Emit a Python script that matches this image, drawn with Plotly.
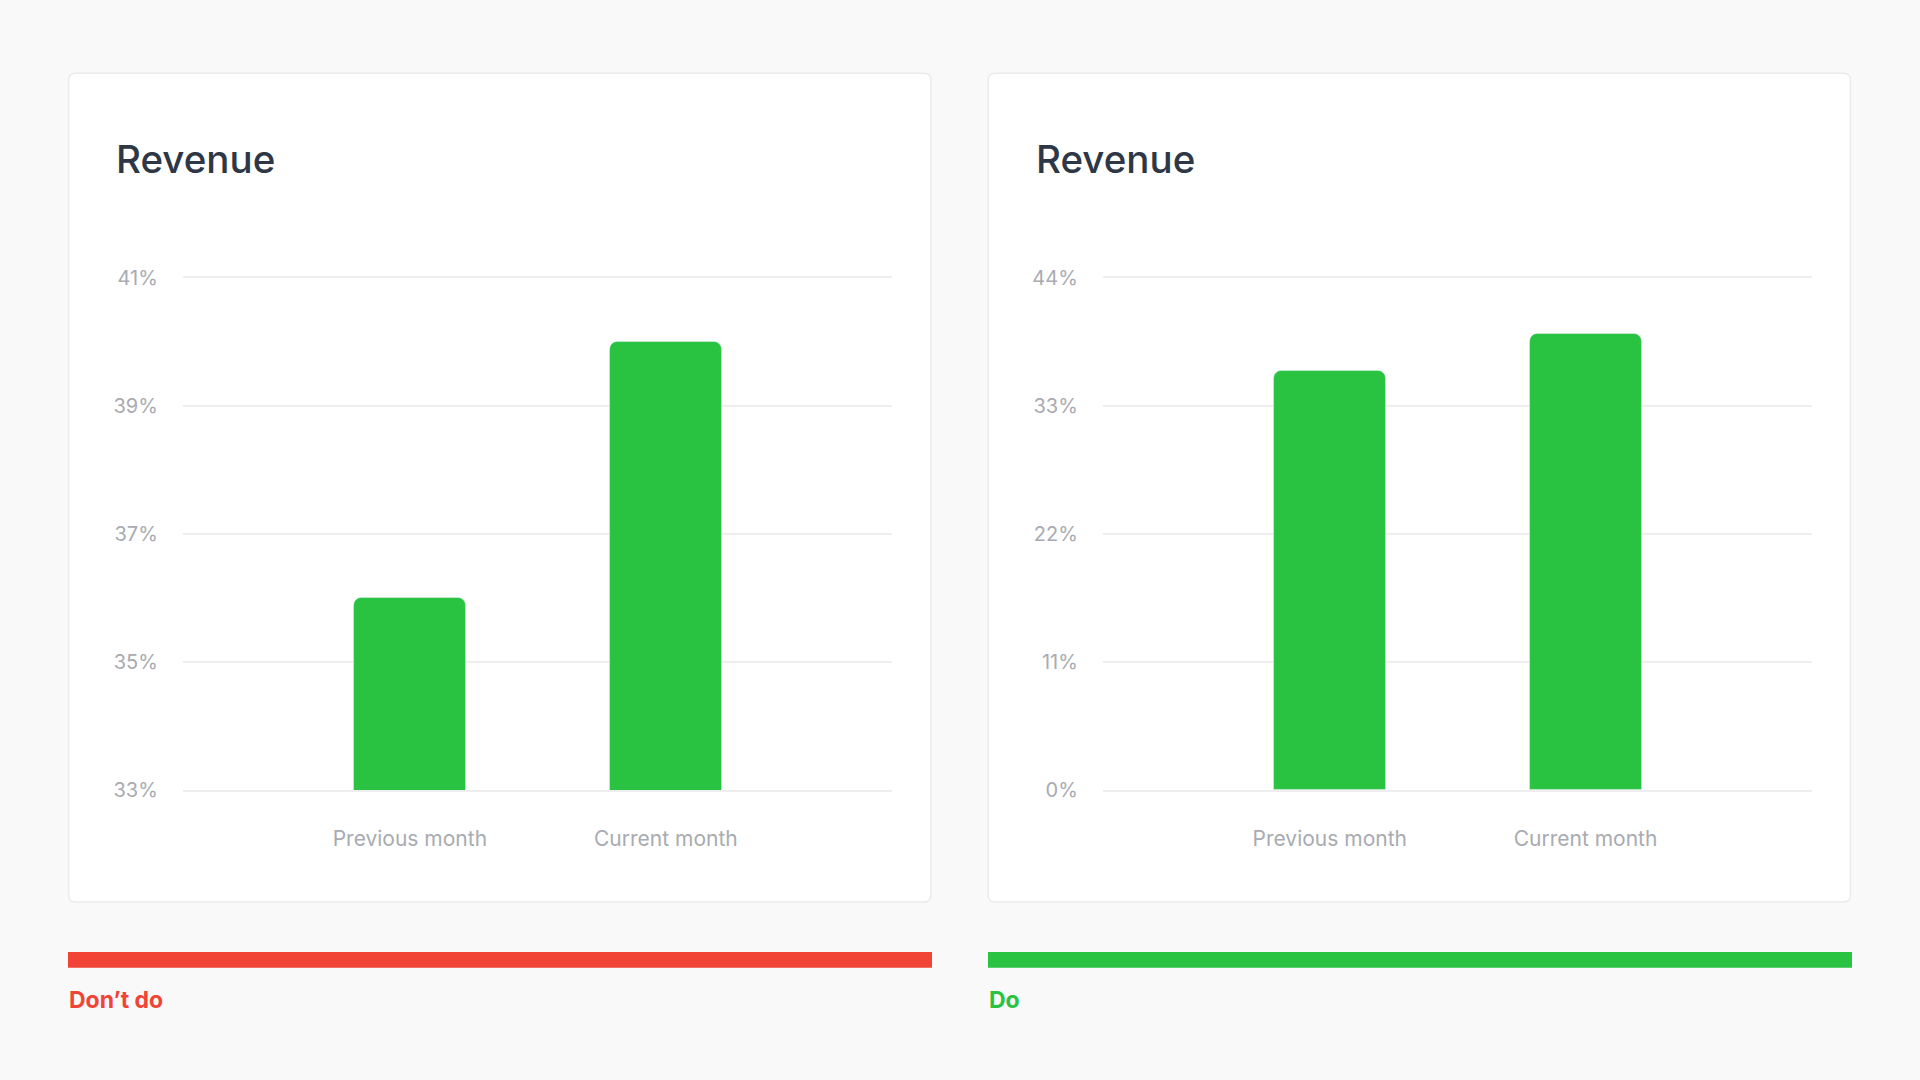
import plotly.graph_objects as go

# ---- data ----
categories = ["Previous month", "Current month"]
left_values = [36, 40]          # truncated axis ("Don't do")
right_values = [36, 39.2]       # zero-based axis ("Do")
left_ticks = [33, 35, 37, 39, 41]
right_ticks = [0, 11, 22, 33, 44]
titles = ["Revenue", "Revenue"]
verdicts = ["Don’t do", "Do"]

W, H = 1920, 1080
BAR = "#29c341"
RED = "#f14436"
GRID = "#eeeeee"
TICK = "#a8abb1"
TITLE = "#2d3745"
FONT = "Inter"

def px(x):
    return x / W

def py(y):
    return 1 - y / H

def rounded_rect(x0, y0, x1, y1, r):
    X0, X1 = px(x0), px(x1)
    Y0, Y1 = py(y0), py(y1)
    rx, ry = r / W, r / H
    return (f"M {X0+rx},{Y0} L {X1-rx},{Y0} Q {X1},{Y0} {X1},{Y0-ry} "
            f"L {X1},{Y1+ry} Q {X1},{Y1} {X1-rx},{Y1} L {X0+rx},{Y1} "
            f"Q {X0},{Y1} {X0},{Y1+ry} L {X0},{Y0-ry} Q {X0},{Y0} {X0+rx},{Y0} Z")

fig = go.Figure()
fig.add_trace(go.Bar(x=categories, y=left_values, xaxis="x", yaxis="y",
                     marker=dict(color=BAR, cornerradius=8), width=0.4375,
                     hoverinfo="skip"))
fig.add_trace(go.Bar(x=categories, y=right_values, xaxis="x2", yaxis="y2",
                     marker=dict(color=BAR, cornerradius=8), width=0.4375,
                     hoverinfo="skip"))

ydom = [py(790), py(277.7)]
xcommon = dict(showgrid=False, zeroline=False, ticks="",
               showline=True, linecolor=GRID, linewidth=2, mirror=True,
               automargin=False, ticklabelstandoff=29, range=[-0.887, 1.885],
               tickfont=dict(family=FONT, size=21, color=TICK))
ycommon = dict(showgrid=True, gridcolor=GRID, gridwidth=2, zeroline=False,
               showline=False, ticks="", automargin=False, ticklabelstandoff=24,
               tickfont=dict(family=FONT, size=20, color=TICK))

fig.update_layout(
    width=W, height=H,
    margin=dict(l=0, r=0, t=0, b=0, pad=0, autoexpand=False),
    paper_bgcolor="#f9f9f9",
    plot_bgcolor="rgba(0,0,0,0)",
    showlegend=False,
    bargap=0,
    xaxis=dict(domain=[px(182.8), px(892.4)], anchor="y", **xcommon),
    yaxis=dict(domain=ydom, anchor="x", range=[left_ticks[0], left_ticks[-1]],
               tickvals=left_ticks, ticktext=[f"{v}%" for v in left_ticks], **ycommon),
    xaxis2=dict(domain=[px(1102.8), px(1812)], anchor="y2", **xcommon),
    yaxis2=dict(domain=ydom, anchor="x2", range=[right_ticks[0], right_ticks[-1]],
                tickvals=right_ticks, ticktext=[f"{v}%" for v in right_ticks], **ycommon),
)

shapes = []
# cards
for (x0, x1) in [(68.6, 931), (988.2, 1850.5)]:
    shapes.append(dict(type="path", xref="paper", yref="paper", layer="below",
                       path=rounded_rect(x0, 73.3, x1, 902, 7),
                       fillcolor="#ffffff", line=dict(color="#ebebeb", width=1.5)))
# verdict bars
for (x0, x1, c) in [(68, 932, RED), (988, 1852, BAR)]:
    shapes.append(dict(type="rect", xref="paper", yref="paper", layer="below",
                       x0=px(x0), x1=px(x1), y0=py(967.7), y1=py(952),
                       fillcolor=c, line=dict(width=0)))
fig.update_layout(shapes=shapes)

annotations = []
for title, x in zip(titles, [114, 1034]):
    annotations.append(dict(text=title, x=px(x), y=py(159), xref="paper", yref="paper",
                            xanchor="left", yanchor="middle", showarrow=False,
                            font=dict(family=FONT, size=38.5, color=TITLE, weight=500)))
for verdict, x, c in zip(verdicts, [67, 987], [RED, BAR]):
    annotations.append(dict(text=verdict, x=px(x), y=py(1000), xref="paper", yref="paper",
                            xanchor="left", yanchor="middle", showarrow=False,
                            font=dict(family=FONT, size=23, color=c, weight=700)))
fig.update_layout(annotations=annotations)

fig.write_html("out.html")
